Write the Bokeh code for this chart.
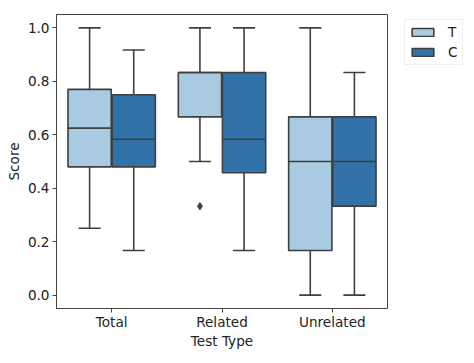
from bokeh.plotting import figure
from bokeh.models import FactorRange, Legend, LegendItem, ColumnDataSource, FixedTicker, NumeralTickFormatter
from bokeh.transform import dodge
from bokeh.embed import file_html
from bokeh.resources import INLINE

# Box-plot summary statistics per test type
categories = ["Total", "Related", "Unrelated"]

t_lower = [0.25, 0.5, 0.0]
t_q1 = [0.48, 0.667, 0.167]
t_median = [0.625, 0.833, 0.5]
t_q3 = [0.77, 0.833, 0.667]
t_upper = [1.0, 1.0, 1.0]

c_lower = [0.167, 0.167, 0.0]
c_q1 = [0.48, 0.458, 0.333]
c_median = [0.583, 0.583, 0.5]
c_q3 = [0.75, 0.833, 0.667]
c_upper = [0.917, 1.0, 0.833]

# Fliers: (category, value)
t_outlier_cat = ["Related"]
t_outlier_val = [0.333]

LIGHT = "#a9cbe1"
DARK = "#3173a8"
EDGE = "#3f3f3f"
FONT = "DejaVu Sans"
FS = "13.6px"

p = figure(
    frame_width=331, frame_height=294,
    x_range=FactorRange(*categories, range_padding=0),
    y_range=(-0.05, 1.05),
    output_backend="svg", toolbar_location=None,
    min_border_left=56, min_border_right=0, min_border_top=14, min_border_bottom=55,
)
p.background_fill_color = "white"
p.border_fill_color = "white"
p.outline_line_color = "#444444"
p.outline_line_width = 1
p.xgrid.visible = False
p.ygrid.visible = False

BOX_W = 0.392
CAP_W = 0.2


def draw_group(lower, q1, med, q3, upper, offset, color):
    src = ColumnDataSource(dict(cat=categories, lower=lower, q1=q1, med=med, q3=q3, upper=upper))
    rng = p.x_range
    # upper and lower whiskers
    p.segment(x0=dodge("cat", offset, range=rng), x1=dodge("cat", offset, range=rng),
              y0="q3", y1="upper", source=src, line_color=EDGE, line_width=1.6)
    p.segment(x0=dodge("cat", offset, range=rng), x1=dodge("cat", offset, range=rng),
              y0="q1", y1="lower", source=src, line_color=EDGE, line_width=1.6)
    # caps
    p.segment(x0=dodge("cat", offset - CAP_W / 2, range=rng), x1=dodge("cat", offset + CAP_W / 2, range=rng),
              y0="upper", y1="upper", source=src, line_color=EDGE, line_width=1.6)
    p.segment(x0=dodge("cat", offset - CAP_W / 2, range=rng), x1=dodge("cat", offset + CAP_W / 2, range=rng),
              y0="lower", y1="lower", source=src, line_color=EDGE, line_width=1.6)
    # interquartile box
    box = p.vbar(x=dodge("cat", offset, range=rng), width=BOX_W, bottom="q1", top="q3",
                 source=src, fill_color=color, line_color=EDGE, line_width=1.6)
    # median line
    p.segment(x0=dodge("cat", offset - BOX_W / 2, range=rng), x1=dodge("cat", offset + BOX_W / 2, range=rng),
              y0="med", y1="med", source=src, line_color=EDGE, line_width=1.6)
    return box


box_t = draw_group(t_lower, t_q1, t_median, t_q3, t_upper, -0.2, LIGHT)
box_c = draw_group(c_lower, c_q1, c_median, c_q3, c_upper, 0.2, DARK)

out_src = ColumnDataSource(dict(cat=t_outlier_cat, val=t_outlier_val))
p.scatter(x=dodge("cat", -0.2, range=p.x_range), y="val", source=out_src, marker="diamond",
          size=8, fill_color=EDGE, line_color=EDGE, line_width=0.5)

# axes
for ax in (p.xaxis[0], p.yaxis[0]):
    ax.axis_line_color = "#444444"
    ax.major_tick_line_color = "#444444"
    ax.major_tick_out = 4
    ax.major_tick_in = 0
    ax.minor_tick_line_color = None
    ax.major_label_text_font = FONT
    ax.major_label_text_font_size = FS
    ax.major_label_text_color = "#222222"
    ax.axis_label_text_font = FONT
    ax.axis_label_text_font_size = FS
    ax.axis_label_text_font_style = "normal"
    ax.axis_label_text_color = "#222222"

p.yaxis.ticker = FixedTicker(ticks=[0.0, 0.2, 0.4, 0.6, 0.8, 1.0])
p.yaxis.formatter = NumeralTickFormatter(format="0.0")
p.yaxis.axis_label = "Score"
p.yaxis.axis_label_standoff = 3
p.yaxis.major_label_standoff = 3
p.xaxis.axis_label = "Test Type"
p.xaxis.axis_label_standoff = 0
p.xaxis.major_label_standoff = 1

legend = Legend(
    items=[LegendItem(label="T", renderers=[box_t]), LegendItem(label="C", renderers=[box_c])],
    location=(17, 243),
    label_text_font=FONT, label_text_font_size=FS, label_text_color="#222222",
    glyph_width=27, glyph_height=10, label_height=14, label_width=10,
    spacing=4, padding=4, margin=0,
    border_line_color="#dddddd", border_line_width=1,
    background_fill_color="white", background_fill_alpha=1.0,
    label_standoff=12,
)
p.add_layout(legend, "right")

open("out.html", "w").write(file_html(p, INLINE))
